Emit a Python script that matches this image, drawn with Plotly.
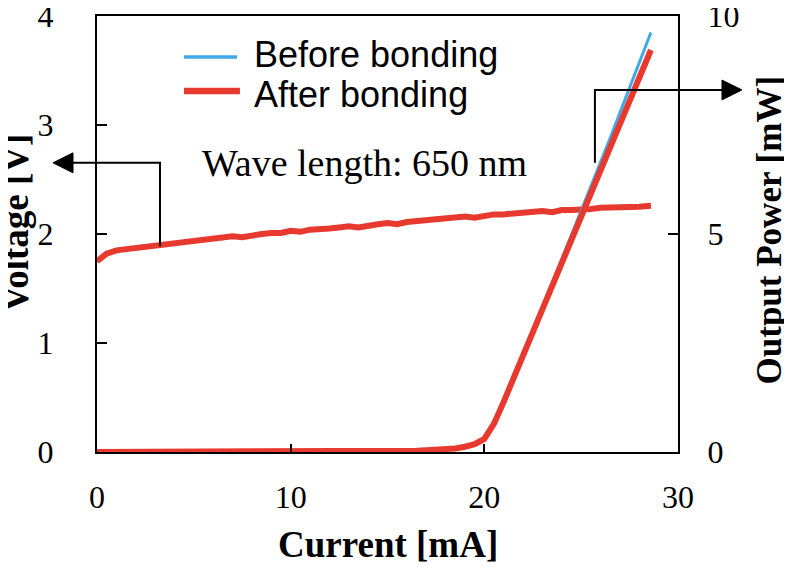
import plotly.graph_objects as go

# current axis, mA
current = [0, 0.5, 1.0, 1.5, 2.0, 2.5, 3.0, 3.5, 4.0, 4.5, 5.0, 5.5, 6.0, 6.5, 7.0, 7.5,
           8.0, 8.5, 9.0, 9.5, 10.0, 10.5, 11.0, 11.5, 12.0, 12.5, 13.0, 13.5, 14.0, 14.5,
           15.0, 15.5, 16.0, 16.5, 17.0, 17.5, 18.0, 18.5, 19.0, 19.5, 20.0, 20.5, 21.0,
           21.5, 22.0, 22.5, 23.0, 23.5, 24.0, 24.5, 25.0, 25.5, 26.0, 26.5, 27.0, 27.5,
           28.0, 28.6]

# voltage [V]
voltage_before = [1.75, 1.82, 1.85, 1.86, 1.88, 1.89, 1.90, 1.91, 1.92, 1.93, 1.94, 1.95,
                  1.96, 1.97, 1.98, 1.98, 1.99, 2.00, 2.01, 2.02, 2.03, 2.03, 2.04, 2.05,
                  2.05, 2.06, 2.07, 2.07, 2.08, 2.09, 2.10, 2.10, 2.11, 2.12, 2.12, 2.13,
                  2.14, 2.15, 2.16, 2.16, 2.17, 2.18, 2.18, 2.19, 2.19, 2.20, 2.21, 2.21,
                  2.22, 2.22, 2.22, 2.23, 2.24, 2.24, 2.24, 2.25, 2.25, 2.26]
voltage_after = [1.75, 1.82, 1.85, 1.86, 1.88, 1.88, 1.90, 1.90, 1.92, 1.92, 1.94, 1.94,
                 1.96, 1.96, 1.98, 1.97, 1.99, 2.00, 2.01, 2.01, 2.03, 2.02, 2.04, 2.04,
                 2.05, 2.06, 2.07, 2.06, 2.08, 2.09, 2.10, 2.09, 2.11, 2.12, 2.12, 2.14,
                 2.14, 2.15, 2.16, 2.15, 2.17, 2.18, 2.18, 2.19, 2.19, 2.20, 2.21, 2.20,
                 2.22, 2.22, 2.22, 2.23, 2.24, 2.24, 2.24, 2.25, 2.25, 2.26]

# output power [mW]
power_before = [0, 0, 0, 0, 0, 0, 0, 0, 0, 0, 0, 0, 0, 0, 0, 0, 0, 0, 0, 0, 0,
                0.01, 0.01, 0.01, 0.01, 0.01, 0.01, 0.01, 0.01, 0.01, 0.01, 0.02, 0.02,
                0.03, 0.04, 0.05, 0.06, 0.08, 0.12, 0.18, 0.30, 0.65, 1.15, 1.68, 2.20,
                2.75, 3.30, 3.87, 4.42, 4.97, 5.52, 6.08, 6.64, 7.20, 7.78, 8.36, 8.95, 9.62]
power_after = [0, 0, 0, 0, 0, 0, 0, 0, 0, 0, 0, 0, 0, 0, 0, 0, 0, 0, 0, 0, 0,
               0.01, 0.01, 0.01, 0.01, 0.01, 0.01, 0.01, 0.01, 0.01, 0.01, 0.02, 0.02,
               0.03, 0.04, 0.05, 0.06, 0.08, 0.12, 0.18, 0.30, 0.65, 1.15, 1.68, 2.20,
               2.75, 3.30, 3.82, 4.35, 4.88, 5.40, 5.92, 6.45, 6.98, 7.50, 8.02, 8.55, 9.22]

x_ticks = [0, 10, 20, 30]
v_ticks = [0, 1, 2, 3, 4]
p_ticks = [0, 5, 10]

blue = "#3fa9e6"
red = "#e8392f"
serif = "Liberation Serif, Times New Roman, serif"
sans = "Liberation Sans, Arial, sans-serif"

fig = go.Figure()
fig.add_trace(go.Scatter(x=current, y=voltage_before, mode="lines",
                         line=dict(color=blue, width=3), showlegend=False))
fig.add_trace(go.Scatter(x=current, y=power_before, mode="lines", yaxis="y2",
                         line=dict(color=blue, width=3), showlegend=False))
fig.add_trace(go.Scatter(x=current, y=voltage_after, mode="lines",
                         line=dict(color=red, width=6), showlegend=False))
fig.add_trace(go.Scatter(x=current, y=power_after, mode="lines", yaxis="y2",
                         line=dict(color=red, width=6), showlegend=False))

axis_common = dict(showgrid=False, zeroline=False, showline=True, linecolor="black",
                   linewidth=2, ticks="inside", tickcolor="black", tickwidth=2,
                   automargin=False, ticklabeloverflow="allow",
                   tickfont=dict(family=serif, size=32, color="black"))

# the page body adds an 8px margin, so the figure is sized to fit inside the window
fig.update_layout(
    width=784, height=559,
    margin=dict(l=89, r=114, t=8, b=114.5),
    paper_bgcolor="white", plot_bgcolor="white",
    xaxis=dict(range=[0, 30], tickvals=x_ticks, ticklen=8, mirror=True,
               ticklabelstandoff=16, **axis_common),
    yaxis=dict(range=[0, 4], tickvals=v_ticks, ticklen=10, mirror=True,
               ticklabelstandoff=35, **axis_common),
    yaxis2=dict(range=[0, 10], tickvals=p_ticks, ticklen=10, overlaying="y",
                side="right", ticklabelstandoff=21, **axis_common),
)

title_font = dict(family=serif, size=37, color="black")

# axis titles
fig.add_annotation(text="<b>Current [mA]</b>", x=0.5, y=-0.212, xref="paper", yref="paper",
                   xanchor="center", yanchor="middle", showarrow=False, font=title_font)
fig.add_annotation(text="<b>Voltage [V]</b>", x=-0.141, y=0.525, xref="paper", yref="paper",
                   xanchor="center", yanchor="middle", showarrow=False, textangle=-90,
                   font=title_font)
fig.add_annotation(text="<b>Output Power [mW]</b>", x=1.158, y=0.51, xref="paper", yref="paper",
                   xanchor="center", yanchor="middle", showarrow=False, textangle=-90,
                   font=dict(family=serif, size=35, color="black"))

fig.add_annotation(text="Wave length: 650 nm", x=0.177, y=0.663, xref="paper", yref="paper",
                   xanchor="left", yanchor="middle", showarrow=False,
                   font=dict(family=serif, size=38, color="black"))

# legend drawn by hand
fig.add_shape(type="line", xref="paper", yref="paper", x0=0.1497, x1=0.241, y0=0.906, y1=0.906,
              line=dict(color=blue, width=3.5))
fig.add_shape(type="line", xref="paper", yref="paper", x0=0.1497, x1=0.246, y0=0.828, y1=0.828,
              line=dict(color=red, width=6.5))
fig.add_annotation(text="Before bonding", x=0.2668, y=0.911, xref="paper", yref="paper",
                   xanchor="left", yanchor="middle", showarrow=False,
                   font=dict(family=sans, size=36, color="black"))
fig.add_annotation(text="After bonding", x=0.2668, y=0.819, xref="paper", yref="paper",
                   xanchor="left", yanchor="middle", showarrow=False,
                   font=dict(family=sans, size=36, color="black"))

# arrows pointing to axes
arrow_line = dict(color="black", width=2)
fig.add_shape(type="path", xref="paper", yref="paper",
              path="M 0.1084 0.4719 L 0.1084 0.6632 L -0.0413 0.6632", line=arrow_line)
fig.add_shape(type="path", xref="paper", yref="paper",
              path="M -0.0757 0.6632 L -0.0413 0.6861 L -0.0413 0.6403 Z",
              fillcolor="black", line=dict(color="black", width=1))
fig.add_shape(type="path", xref="paper", yref="paper",
              path="M 0.857 0.6632 L 0.857 0.8305 L 1.0757 0.8305", line=arrow_line)
fig.add_shape(type="path", xref="paper", yref="paper",
              path="M 1.110 0.8305 L 1.0757 0.853 L 1.0757 0.8076 Z",
              fillcolor="black", line=dict(color="black", width=1))

fig.write_html("out.html")
